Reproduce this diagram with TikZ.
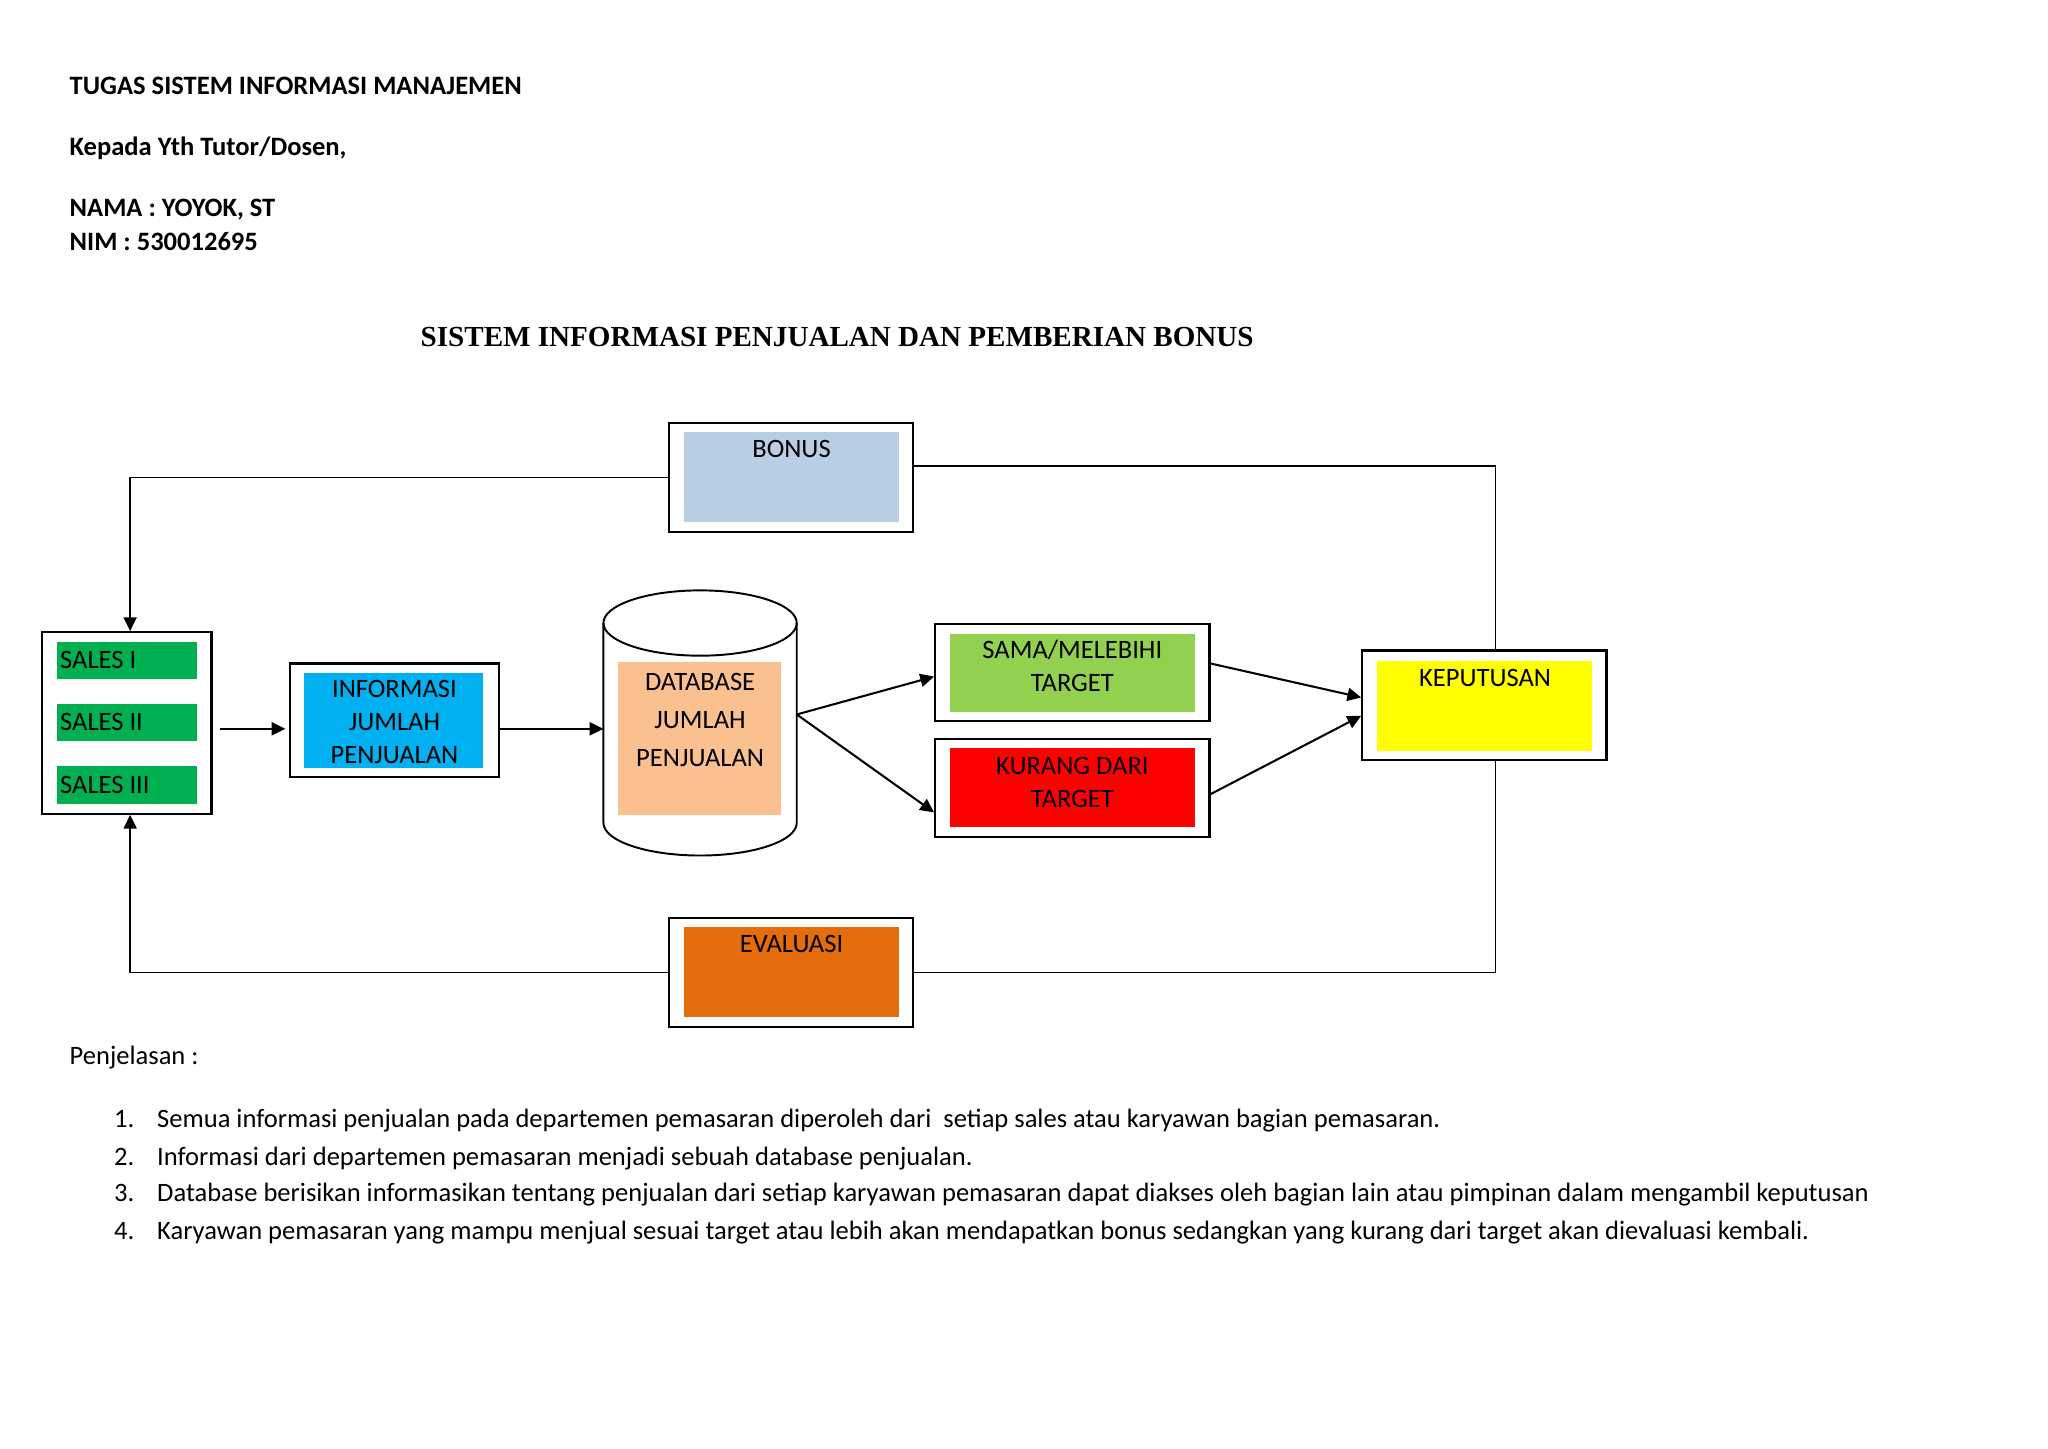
\documentclass[tikz,border=0pt,11pt]{standalone}
\usepackage{fontspec}
\setmainfont{Carlito}
\newfontfamily\titlefont{Liberation Serif}
\usepackage{xcolor}
\usepackage{tikz}
\usetikzlibrary{arrows.meta}
\usetikzlibrary{positioning}
\definecolor{salesgreen}{HTML}{00B050}
\definecolor{infoblue}{HTML}{00B0F0}
\definecolor{dborange}{HTML}{FAC090}
\definecolor{bonusblue}{HTML}{B9CDE5}
\definecolor{samagreen}{HTML}{92D050}
\definecolor{kurangred}{HTML}{FF0000}
\definecolor{kepyellow}{HTML}{FFFF00}
\definecolor{evalorange}{HTML}{E46C0A}
\tikzset{
    outerbox/.style = {rectangle, draw=black, line width=0.9pt, inner sep=0pt},
    innerbox/.style = {rectangle, inner sep=0pt},
    salesbar/.style = {rectangle, fill=salesgreen, minimum width=2.027cm, minimum height=0.54cm, inner sep=0pt},
    salestxt/.style = {anchor=west, inner sep=0pt},
    txt/.style = {align=center, inner sep=0pt},
    head/.style = {anchor=base west, inner sep=0pt, font=\bfseries},
    body/.style = {anchor=base west, inner sep=0pt},
}
\begin{document}
\begin{tikzpicture}[x=0.18941mm, y=-0.18941mm]
\tikzset{
    arr/.style = {-{Triangle[length=2mm,width=1.9mm]}, line width=0.85pt},
    loopn/.style = {-, line width=0.7pt},
    looparr/.style = {-{Triangle[length=2mm,width=1.9mm]}, line width=0.7pt},
    dbline/.style = {line width=0.8pt},
}
\useasboundingbox (0,0) rectangle (1568,1109);
% header
\node[head] (tugas) at (53,72) {TUGAS SISTEM INFORMASI MANAJEMEN};
\node[head] (kepada) at (53,119) {Kepada Yth Tutor/Dosen,};
\node[head] (nama) at (53,166) {NAMA : YOYOK, ST};
\node[head] (nim) at (53,192) {NIM : 530012695};
\node[anchor=base, inner sep=0pt, font=\titlefont\bfseries\fontsize{12pt}{14pt}\selectfont] (judul) at (641,265) {SISTEM INFORMASI PENJUALAN DAN PEMBERIAN BONUS};
%
% sales
\node[outerbox, minimum width=2.462cm, minimum height=2.633cm] (sales) at (97,553.5) {};
\node[salesbar] (s1) at (97.5,505.5) {};
\node[salesbar] (s2) at (97.5,553) {};
\node[salesbar] (s3) at (97.5,601) {};
\node[salestxt] (s1-t) at ([xshift=0.04cm]s1.west) {SALES I};
\node[salestxt] (s2-t) at ([xshift=0.04cm]s2.west) {SALES II};
\node[salestxt] (s3-t) at ([xshift=0.04cm]s3.west) {SALES III};
%
% informasi
\node[outerbox, minimum width=3.031cm, minimum height=1.648cm] (info) at (302,551.5) {};
\node[innerbox, fill=infoblue, minimum width=2.595cm, minimum height=1.383cm] (infoin) at (301.5,551.5) {};
\node[txt] (info-t) at (302,553) {INFORMASI\\JUMLAH\\PENJUALAN};
%
% database
\draw[dbline] (536,477) ellipse [x radius=74, y radius=25];
\draw[dbline] (462,477) -- (462,630) arc [start angle=180, end angle=0, x radius=74, y radius=25] -- (610,477);
\node[innerbox, fill=dborange, minimum width=2.368cm, minimum height=2.216cm] (dbin) at (535.5,565.5) {};
\node[txt] (db-t) at (536,551) {DATABASE\\[2pt]JUMLAH\\[2pt]PENJUALAN};
\coordinate (dbw) at (462,558);
\coordinate (dbe) at (610,547);
%
% target
\node[outerbox, minimum width=3.978cm, minimum height=1.402cm] (sama) at (821,515) {};
\node[innerbox, fill=samagreen, minimum width=3.561cm, minimum height=1.136cm] (samain) at (821,515) {};
\node[txt] (sama-t) at (821,510) {SAMA/MELEBIHI\\TARGET};
\node[outerbox, minimum width=3.978cm, minimum height=1.42cm] (kurang) at (821,603.5) {};
\node[innerbox, fill=kurangred, minimum width=3.561cm, minimum height=1.136cm] (kurangin) at (821,603) {};
\node[txt] (kurang-t) at (821,599) {KURANG DARI\\TARGET};
%
% keputusan
\node[outerbox, minimum width=3.542cm, minimum height=1.591cm] (kep) at (1136.5,540) {};
\node[innerbox, fill=kepyellow, minimum width=3.125cm, minimum height=1.307cm] (kepin) at (1136.5,540.5) {};
\node[txt] (kep-t) at (1137,519) {KEPUTUSAN};
%
% bonus and evaluasi
\node[outerbox, minimum width=3.542cm, minimum height=1.572cm] (bonus) at (605.5,365.5) {};
\node[innerbox, fill=bonusblue, minimum width=3.106cm, minimum height=1.307cm] (bonusin) at (606,365.5) {};
\node[txt] (bonus-t) at (606,344) {BONUS};
\node[outerbox, minimum width=3.542cm, minimum height=1.572cm] (eval) at (605.5,744.5) {};
\node[innerbox, fill=evalorange, minimum width=3.106cm, minimum height=1.307cm] (evalin) at (606,744.5) {};
\node[txt] (eval-t) at (606,723) {EVALUASI};
%
\draw[arr] ([xshift=0.1cm]sales.east |- dbw) -- ([xshift=-0.05cm]info.west |- dbw);
\draw[arr] (info.east |- dbw) -- (dbw);
\draw[arr] (dbe) -- ([yshift=-0.057cm]sama.west);
\draw[arr] (dbe) -- ([yshift=-0.35cm]kurang.west);
\draw[arr] ([yshift=0.133cm]sama.east) -- ([yshift=0.114cm]kep.west);
\draw[arr] ([yshift=-0.085cm]kurang.east) -- ([yshift=-0.152cm]kep.west);
%
\draw[looparr] (bonus.west) -| ([xshift=0.05cm]sales.north);
\draw[loopn] ([yshift=0.161cm]bonus.east) -| ([xshift=0.161cm]kep.north);
\draw[loopn] ([xshift=0.161cm]kep.south) |- (eval.east);
\draw[looparr] (eval.west) -| ([xshift=0.05cm]sales.south);
%
% penjelasan
\node[body] (penj) at (53,815) {Penjelasan :};
\node[body] (n1) at (87,863) {1.};
\node[body] (t1) at (120,863) {Semua informasi penjualan pada departemen pemasaran diperoleh dari\ \ setiap sales atau karyawan bagian pemasaran.};
\node[body] (n2) at (87,892) {2.};
\node[body] (t2) at (120,892) {Informasi dari departemen pemasaran menjadi sebuah database penjualan.};
\node[body] (n3) at (87,920) {3.};
\node[body] (t3) at (120,920) {Database berisikan informasikan tentang penjualan dari setiap karyawan pemasaran dapat diakses oleh bagian lain atau pimpinan dalam mengambil keputusan};
\node[body] (n4) at (87,949) {4.};
\node[body] (t4) at (120,949) {Karyawan pemasaran yang mampu menjual sesuai target atau lebih akan mendapatkan bonus sedangkan yang kurang dari target akan dievaluasi kembali.};
\end{tikzpicture}
\end{document}
